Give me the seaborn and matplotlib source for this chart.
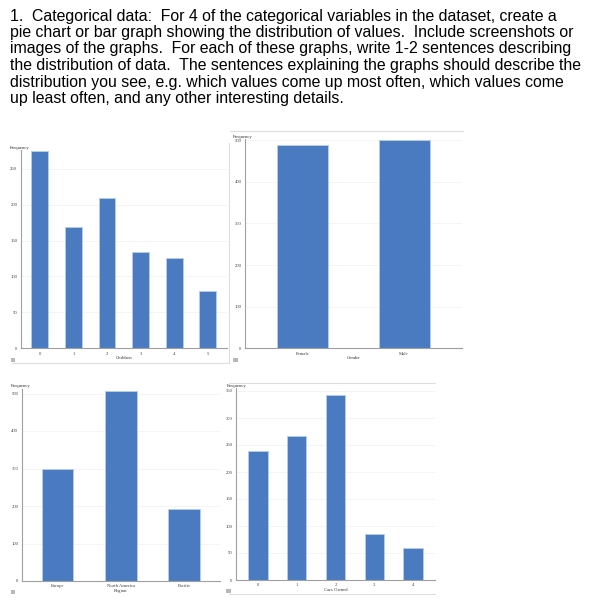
import matplotlib
matplotlib.use("Agg")
import matplotlib.pyplot as plt
import seaborn as sns
from matplotlib.patches import Rectangle
from matplotlib.lines import Line2D

# dados
children_levels = ['0', '1', '2', '3', '4', '5']
children_counts = [274, 169, 209, 134, 126, 80]

gender_levels = ['Female', 'Male']
gender_counts = [489, 500]

region_levels = ['Europe', 'North America', 'Pacific']
region_counts = [300, 508, 192]

cars_levels = ['0', '1', '2', '3', '4']
cars_counts = [238, 267, 342, 85, 59]

question_lines = [
    "1.  Categorical data:  For 4 of the categorical variables in the dataset, create a",
    "pie chart or bar graph showing the distribution of values.  Include screenshots or",
    "images of the graphs.  For each of these graphs, write 1-2 sentences describing",
    "the distribution of data.  The sentences explaining the graphs should describe the",
    "distribution you see, e.g. which values come up most often, which values come",
    "up least often, and any other interesting details.",
]

sns.set_style("white")

W, H = 593, 613
fig = plt.figure(figsize=(W / 100, H / 100), dpi=100)

BAR = '#4a7bc1'
EDGE = '#b7cdea'
SPINE = '#a0a0a0'
GRID = '#f0f0f0'
SERIF = 'Liberation Serif'
FS = 3.4


def px_axes(x0, x1, y_top, y_bot):
    return fig.add_axes([x0 / W, 1 - y_bot / H, (x1 - x0) / W, (y_bot - y_top) / H])


def draw_bar(ax, levels, counts, xlabel, ymax, yticks, label_dx):
    sns.barplot(x=levels, y=counts, ax=ax, color=BAR, width=0.5,
                edgecolor=EDGE, linewidth=0.6, saturation=1)
    ax.set_ylim(0, ymax)
    ax.set_xlim(-0.57, len(levels) - 0.43)
    ax.set_yticks(yticks)
    ax.yaxis.grid(True, color=GRID, linewidth=0.5)
    ax.set_axisbelow(True)
    for s in ['top', 'right']:
        ax.spines[s].set_visible(False)
    for s in ['left', 'bottom']:
        ax.spines[s].set_color(SPINE)
        ax.spines[s].set_linewidth(0.8)
    ax.tick_params(axis='both', length=1.5, width=0.4, color='#777777', pad=1,
                   labelsize=FS, labelcolor='#444444')
    for lab in ax.get_xticklabels() + ax.get_yticklabels():
        lab.set_fontfamily(SERIF)
    ax.set_xlabel(xlabel, fontsize=FS, family=SERIF, color='#333333', labelpad=0.5)
    ax.set_ylabel('')
    ax.annotate('Frequency', xy=(0, 1), xycoords='axes fraction',
                xytext=(label_dx, 0.5), textcoords='offset pixels',
                fontsize=FS, family=SERIF, color='#333333', ha='left', va='bottom')


ax1 = px_axes(20.7, 227, 150, 348.3)
draw_bar(ax1, children_levels, children_counts, 'Children', 276, range(0, 251, 50), -11)

ax2 = px_axes(245, 462, 139, 348.3)
draw_bar(ax2, gender_levels, gender_counts, 'Gender', 503, range(0, 501, 100), -12)

ax3 = px_axes(21.7, 220, 389, 581)
draw_bar(ax3, region_levels, region_counts, 'Region', 512, range(0, 501, 100), -11)

ax4 = px_axes(236, 435, 388.3, 580)
draw_bar(ax4, cars_levels, cars_counts, 'Cars Owned', 355, range(0, 351, 50), -9)

# bordas claras dos painéis
BORDER = '#dddddd'
for (xa, ya, xb, yb) in [(229, 143, 229, 363), (12, 363, 229, 363),
                         (230, 131, 463, 131),
                         (229, 383, 435, 383), (229, 594, 435, 594)]:
    fig.add_artist(Line2D([xa / W, xb / W], [1 - ya / H, 1 - yb / H],
                          color=BORDER, linewidth=0.8))

# pequenos ícones no canto dos painéis
for (ix, iy) in [(10.5, 358), (233, 358), (10.5, 590), (226, 589)]:
    fig.add_artist(Rectangle((ix / W, 1 - (iy + 4) / H), 4.5 / W, 4 / H,
                             color='#b8b8b8', linewidth=0))

# texto da questão
for i, line in enumerate(question_lines):
    fig.text(10 / W, 1 - (20.5 + i * 16.5) / H, line, fontsize=11.4,
             family='Liberation Sans', color='#000000', ha='left', va='baseline')

fig.savefig('out.png', dpi=100, facecolor='white')
